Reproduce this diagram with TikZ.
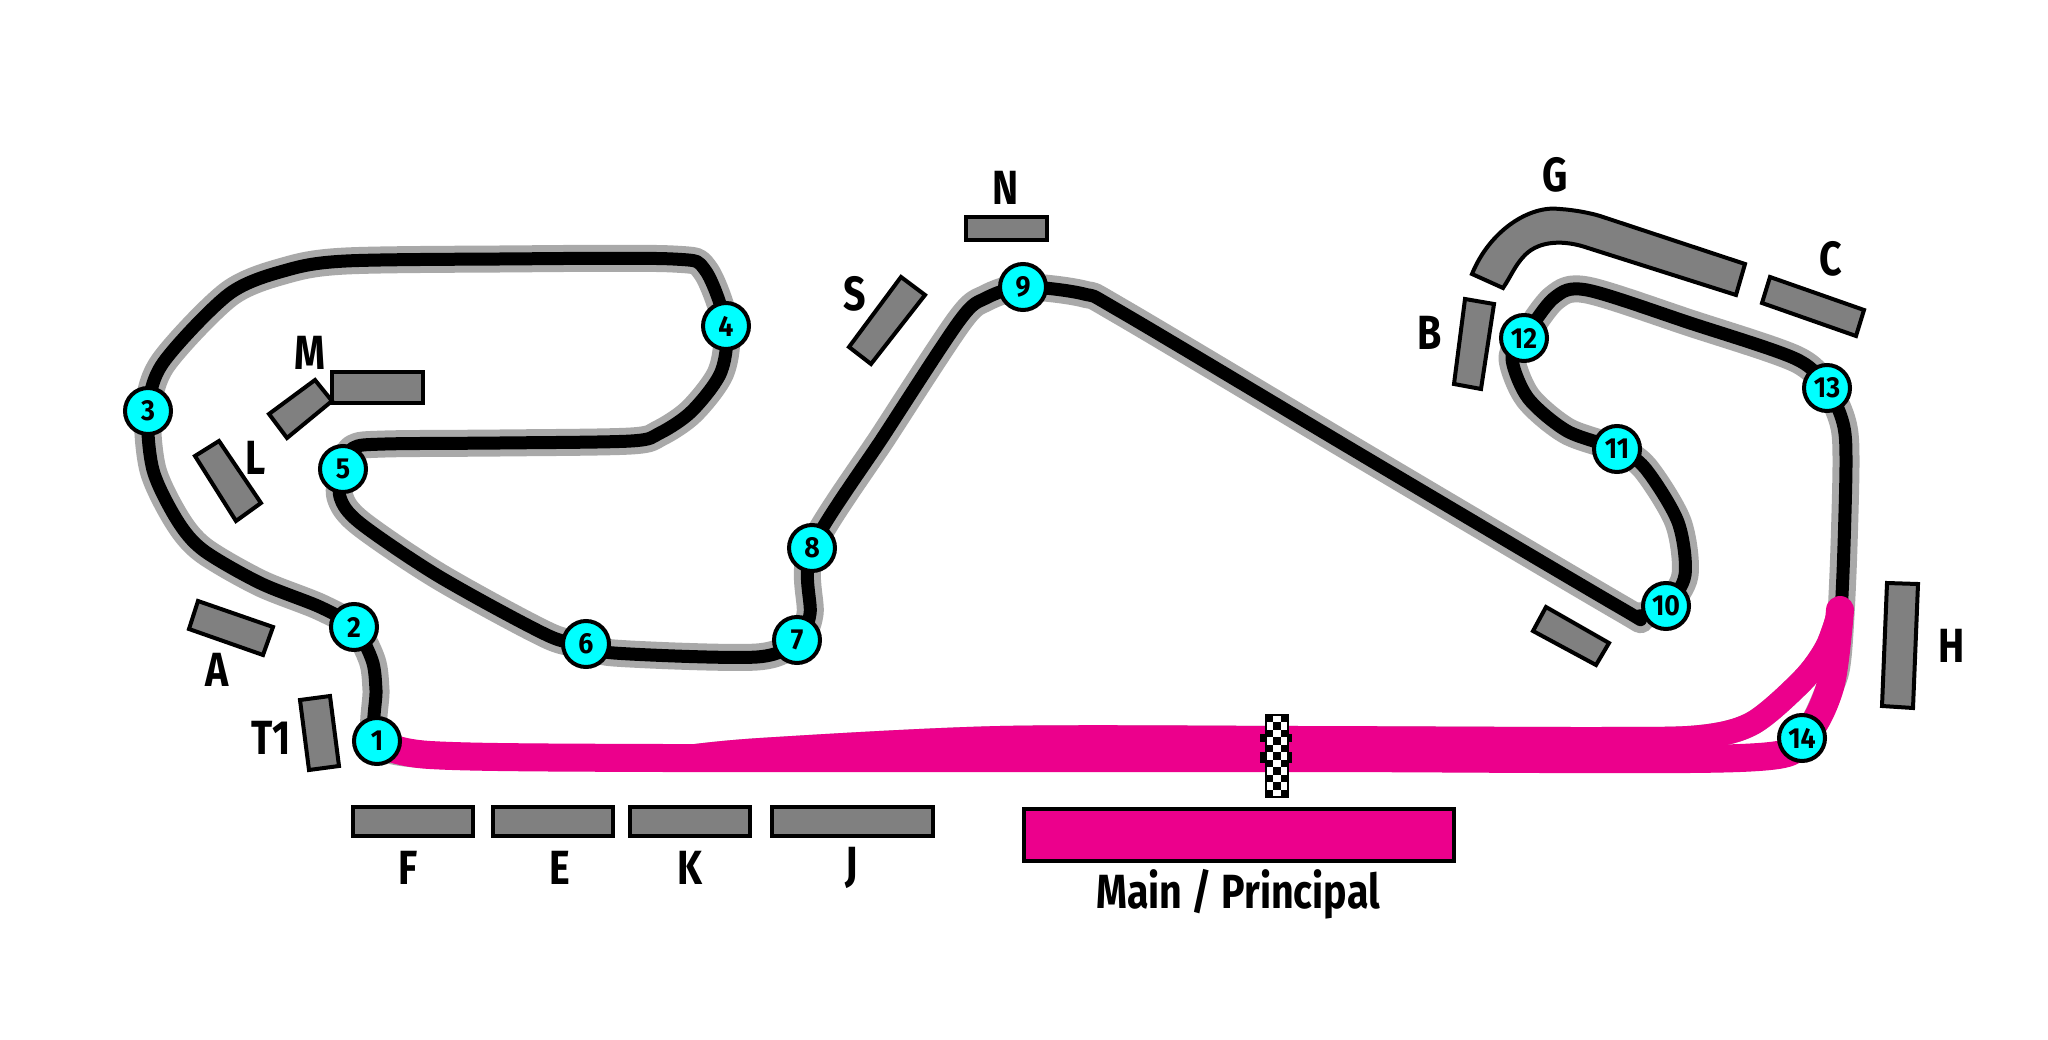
\documentclass[tikz,border=0pt]{standalone}
\usepackage{fontspec}
\usetikzlibrary{fadings}
\newfontfamily\lab[FakeStretch=.82]{Fira Sans Bold}
\newfontfamily\num[FakeStretch=.92]{Fira Sans Bold}
\definecolor{stand}{HTML}{808080}
\definecolor{aq}{HTML}{00FFFF}
\definecolor{edge}{HTML}{A9A9A9}
\pgfdeclarehorizontalshading{trkshade}{100bp}{
 color(0bp)=(pgftransparent!100);
 color(2bp)=(pgftransparent!73);
 color(20bp)=(pgftransparent!73);
 color(28bp)=(pgftransparent!44);
 color(86bp)=(pgftransparent!44);
 color(93bp)=(pgftransparent!73);
 color(97bp)=(pgftransparent!100);
 color(100bp)=(pgftransparent!100)}
\pgfdeclarefading{trkfade}{\pgfuseshading{trkshade}}
\tikzset{
 trackfill/.style={line cap=round,line join=round},
 standbox/.style={draw=black,fill=stand,line width=4pt,line join=miter},
 turn/.style={circle,draw=black,fill=aq,line width=4pt,minimum size=46pt,inner sep=0pt,font=\num\fontsize{29}{29}\selectfont},
 lbl/.style={font=\lab\fontsize{48}{48}\selectfont,inner sep=0pt,text=black},
}
\begin{document}
\begin{tikzpicture}[x=1pt,y=-1pt]
\useasboundingbox[fill=white] (0,0) rectangle (2048,1040);
\foreach \n/\p in {1/{377,741},2/{354,627},3/{148,411},4/{726,326},5/{343,469},6/{586,644},7/{797,640},8/{812,548},9/{1023,287},10/{1666,606},11/{1617,449},12/{1524,338},13/{1827,388},14/{1802,738}}
  \coordinate (p\n) at (\p);
\coordinate (pitjoin) at (1840,610);
\def\mainpath{plot[smooth cycle,tension=.5] coordinates {
 (p1) (376,690) (372,660) (p2) (320,607) (260,583) (203,550) (177,520) (153,470) (p3)
 (163,363) (229,294) (287,270) (346,261) (500,259) (673,259) (705,270) (p4)
 (721,372) (692,411) (660,433) (631,441) (500,443) (385,444) (353,448) (p5)
 (340,497) (360,523) (440,577) (549,636) (p6) (614,653) (757,657) (p7) (810,614) (p8)
 (885,434) (960,320) (986,298) (p9) (1084,294) (1123,313) (1370,460) (1619,607) (1639,616) (p10)
 (1685,575) (1678,522) (1645,468) (p11) (1567,431) (1528,398) (1512,359) (p12)
 (1554,298) (1587,290) (1690,323) (1796,359) (p13)
 (1843,423) (1846,463) (1843,573) (1838,657) (1830,687) (p14) (1740,758) (1300,758) (664,758) (430,755)}}
\def\pitpath{plot[smooth,tension=.5] coordinates {(680,758) (760,750) (1000,738) (1300,738) (1600,739) (1700,737) (1753,723) (1803,680) (1827,647) (pitjoin)}}
\draw[trackfill,draw=edge,line width=27pt] \mainpath;
\draw[trackfill,draw=edge,line width=24pt] \pitpath;
\draw[trackfill,draw=black,line width=13pt] \mainpath;
\draw[trackfill,draw=black,line width=8pt] \pitpath;
\begin{scope}[scope fading=trkfade,fit fading=false,fading transform={xshift=1100,yshift=-750,xscale=15,yscale=3}]
 \draw[trackfill,draw=magenta,line width=28pt] plot[smooth,tension=.5] coordinates {(p1) (430,755) (664,758) (1300,758) (1740,758) (p14) (1830,687) (pitjoin)};
 \draw[trackfill,draw=magenta,line width=24pt] \pitpath;
\end{scope}
% stands
\foreach \poly in {
 {(332,372) -- (423,372) -- (423,403) -- (332,403)},
 {(269,414) -- (315,380) -- (332,401) -- (287,438)},
 {(195,456) -- (219,441) -- (261,503) -- (236,521)},
 {(198,601) -- (273,627) -- (263,655) -- (189,629)},
 {(300,700) -- (330,696) -- (339,766) -- (309,770)},
 {(353,807) -- (473,807) -- (473,836) -- (353,836)},
 {(493,807) -- (613,807) -- (613,836) -- (493,836)},
 {(630,807) -- (750,807) -- (750,836) -- (630,836)},
 {(772,807) -- (933,807) -- (933,836) -- (772,836)},
 {(1887,583) -- (1918,584) -- (1913,708) -- (1882,706)},
 {(966,217) -- (1047,217) -- (1047,240) -- (966,240)},
 {(901,277) -- (925,295) -- (871,364) -- (849,347)},
 {(1770,277) -- (1864,310) -- (1856,336) -- (1762,303)},
 {(1465,299) -- (1494,304) -- (1481,389) -- (1454,384)},
 {(1546,607) -- (1609,643) -- (1596,665) -- (1533,631)}}
 {\draw[standbox] \poly -- cycle;}
\draw[standbox] (1472,274) .. controls (1490,230) and (1530,205) .. (1560,209) .. controls (1575,210) and (1590,213) .. (1600,216) -- (1745,264) -- (1736,295) -- (1588,248) .. controls (1565,240) and (1540,240) .. (1525,255) .. controls (1515,265) and (1510,278) .. (1503,288) -- cycle;
\draw[black,fill=magenta,line width=4pt] (1024,809) rectangle (1454,861);
% chequered flag
\fill[black] (1260,734) rectangle (1292,742);
\fill[black] (1260,752) rectangle (1292,763);
\fill[white] (1266,715) rectangle (1288,797);
\foreach \r in {0,...,10}
 \foreach \c in {0,1,2}{
  \pgfmathparse{int(mod(\r+\c,2))}
  \ifnum\pgfmathresult=0
   \fill[black] ({1266+\c*7.33},{715+\r*7.45}) rectangle ({1266+(\c+1)*7.33},{715+(\r+1)*7.45});
  \fi}
\draw[black,line width=1.5pt] (1266,715) rectangle (1288,797);
% turns
\foreach \n in {1,...,14}
 \node[turn] (t\n) at (p\n) {\n};
% labels
\node[lbl] (ln) at (1006,188) {N};
\node[lbl] (ls) at (855,294) {S};
\node[lbl] (lg) at (1555,175) {G};
\node[lbl] (lc) at (1831,259) {C};
\node[lbl] (lb) at (1430,333) {B};
\node[lbl] (lh) at (1952,646) {H};
\node[lbl] (ll) at (256,458) {L};
\node[lbl] (lm) at (310,353) {M};
\node[lbl] (la) at (217,670) {A};
\node[lbl] (lt) at (271,738) {T1};
\node[lbl] (lf) at (408,868) {F};
\node[lbl] (le) at (560,868) {E};
\node[lbl] (lk) at (690,868) {K};
\node[lbl] (lj) at (852,868) {J};
\node[lbl] (lmain) at (1238,894) {Main / Principal};
\end{tikzpicture}
\end{document}
